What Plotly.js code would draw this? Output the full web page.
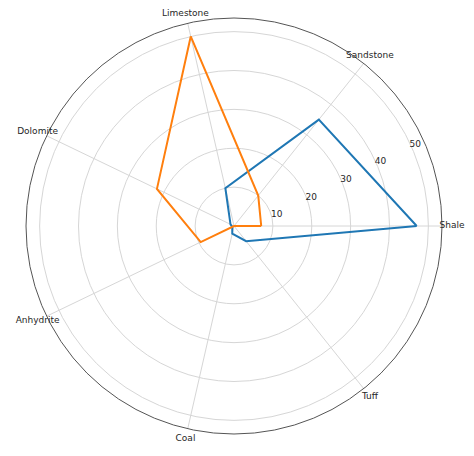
<!DOCTYPE html>
<html>
<head>
<meta charset="utf-8">
<script src="https://cdn.plot.ly/plotly-3.0.1.min.js"></script>
<style>
  html, body { margin: 0; padding: 0; background: #fff; }
  #renderTarget { width: 474px; height: 456px; }
</style>
</head>
<body>
<div id="renderTarget"></div>
<script>
// rock types around the circle, counter-clockwise from Shale
const rockTypes = ["Shale", "Sandstone", "Limestone", "Dolomite", "Anhydrite", "Coal", "Tuff"];

// values
const seriesBlue = [47, 35, 10, 1, 0.5, 2, 5];
const seriesOrange = [7, 10, 50, 22, 9.5, 0, 0];

const radialTicks = [10, 20, 30, 40, 50];

const RMAX = 53.5;

// close the loop back to the first category
const closeLoop = (arr) => arr.concat([arr[0]]);

const data = [
    {
        type: "scatterpolar",
        r: closeLoop(seriesBlue),
        theta: closeLoop(rockTypes),
        mode: "lines",
        line: { color: "#1f77b4", width: 2 },
    },
    {
        type: "scatterpolar",
        r: closeLoop(seriesOrange),
        theta: closeLoop(rockTypes),
        mode: "lines",
        line: { color: "#ff7f0e", width: 2 },
    },
    // centred category labels (matplotlib style) on a slightly larger, invisible polar
    {
        type: "scatterpolar",
        subplot: "polar2",
        r: rockTypes.map(() => 1),
        theta: rockTypes,
        mode: "text",
        text: rockTypes,
        textposition: "middle center",
        textfont: { family: "DejaVu Sans", size: 9, color: "#262626" },
        cliponaxis: false,
        hoverinfo: "skip",
    },
];

const hiddenAxis = {
    showline: false,
    showgrid: false,
    showticklabels: false,
    ticks: "",
};

const layout = {
    width: 474,
    height: 456,
    margin: { l: 0, r: 0, t: 0, b: 0 },
    paper_bgcolor: "#fff",
    showlegend: false,
    font: { family: "DejaVu Sans", size: 9, color: "#262626" },
    polar: {
        domain: { x: [26 / 474, 442 / 474], y: [22 / 456, 438 / 456] },
        bgcolor: "#fff",
        angularaxis: {
            type: "category",
            categoryarray: rockTypes,
            direction: "counterclockwise",
            rotation: 0,
            showline: true,
            linecolor: "#555",
            linewidth: 1,
            gridcolor: "#d6d6d6",
            gridwidth: 1,
            ticks: "",
            showticklabels: false,
        },
        radialaxis: {
            range: [0, RMAX],
            tickvals: radialTicks,
            angle: 27,
            side: "clockwise",
            tickangle: 27,
            showline: false,
            ticks: "",
            gridcolor: "#d6d6d6",
            gridwidth: 1,
            tickfont: { size: 9 },
        },
    },
    polar2: {
        domain: { x: [16 / 474, 452 / 474], y: [12 / 456, 448 / 456] },
        bgcolor: "rgba(0,0,0,0)",
        angularaxis: Object.assign({
            type: "category",
            categoryarray: rockTypes,
            direction: "counterclockwise",
            rotation: 0,
        }, hiddenAxis),
        radialaxis: Object.assign({ range: [0, 1] }, hiddenAxis),
    },
};

Plotly.newPlot("renderTarget", data, layout, { displayModeBar: false, staticPlot: true });
</script>
</body>
</html>
